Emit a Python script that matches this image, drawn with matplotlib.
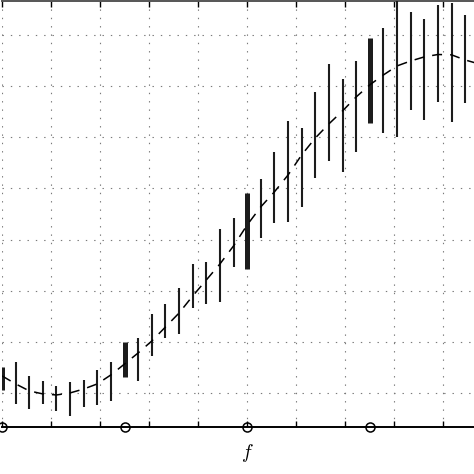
import numpy as np
import matplotlib
matplotlib.use("Agg")
from matplotlib import pyplot as plt

plt.rcParams['mathtext.fontset'] = 'cm'
plt.rcParams['lines.scale_dashes'] = False

# frequency positions: one bar every 1/9, circles on the integers
f_bars = np.arange(35) / 9.0
f_marks = [0, 1, 2, 3]

# dashed trend curve (one value per bar, plus one past the right edge)
f_curve = np.arange(36) / 9.0
curve = [0.100, 0.053, 0.012, -0.006, -0.012, 0.000, 0.023, 0.053, 0.106,
         0.170, 0.235, 0.305, 0.387, 0.469, 0.569, 0.663, 0.757, 0.863,
         0.986, 1.092, 1.180, 1.279, 1.397, 1.496, 1.579, 1.655, 1.737,
         1.808, 1.866, 1.919, 1.948, 1.972, 1.986, 1.984, 1.954, 1.931]

# range bars (low / high)
low = [0.018, -0.065, -0.094, -0.065, -0.106, -0.135, -0.082, -0.070, -0.047,
       0.094, 0.070, 0.217, 0.323, 0.346, 0.499, 0.522, 0.534, 0.739,
       0.728, 0.910, 0.998, 1.004, 1.092, 1.262, 1.362, 1.297, 1.414,
       1.585, 1.526, 1.502, 1.661, 1.602, 1.707, 1.590, 1.702]
high = [0.153, 0.182, 0.100, 0.070, 0.041, 0.065, 0.076, 0.135, 0.182,
        0.299, 0.323, 0.464, 0.522, 0.616, 0.757, 0.769, 0.962, 1.027,
        1.174, 1.256, 1.414, 1.596, 1.555, 1.766, 1.931, 1.843, 1.948,
        2.083, 2.142, 2.336, 2.236, 2.195, 2.277, 2.289, 2.218]

thick = [0, 9, 18, 27]

fig = plt.figure(figsize=(4.74, 4.74), dpi=100)
ax = fig.add_axes([2 / 474, 47 / 474, 490.4 / 474, 426 / 474])

f_bars = np.asarray(f_bars)
low = np.asarray(low)
high = np.asarray(high)
thin = [i for i in range(len(f_bars)) if i not in thick]

ax.vlines(f_bars[thin], low[thin], high[thin], color='#1c1c1c', lw=1.5, zorder=3)
ax.vlines(f_bars[thick], low[thick], high[thick], color='#1c1c1c', lw=3.6, zorder=3)
ax.plot(f_curve, curve, color='black', lw=1.1, dashes=(7.2, 5.8), zorder=4)

ax.plot(f_marks, [-0.2] * len(f_marks), 'o', ms=6.5, mfc='none', mec='black',
        mew=1.1, clip_on=False, zorder=5)

ax.set_xlim(0, 4)
ax.set_ylim(-0.2, 2.3)
ax.set_xticks(np.arange(0, 4.01, 0.4))
ax.set_yticks(np.arange(0, 2.11, 0.3))
ax.grid(True, color='#7a7a7a', lw=0.8, linestyle=(0, (1, 5)))
ax.tick_params(axis='x', direction='in', top=True, bottom=True, length=4.5,
               width=1.0, labelbottom=False)
ax.tick_params(axis='y', left=False, right=False, labelleft=False)

ax.spines['left'].set_visible(False)
ax.spines['bottom'].set_linewidth(1.4)
ax.spines['top'].set_color('#555555')
ax.spines['top'].set_linewidth(1.4)

ax.set_xlabel('$f$', fontsize=14)
ax.xaxis.set_label_coords(0.5, -0.035)

fig.savefig('out.png', dpi=100)
